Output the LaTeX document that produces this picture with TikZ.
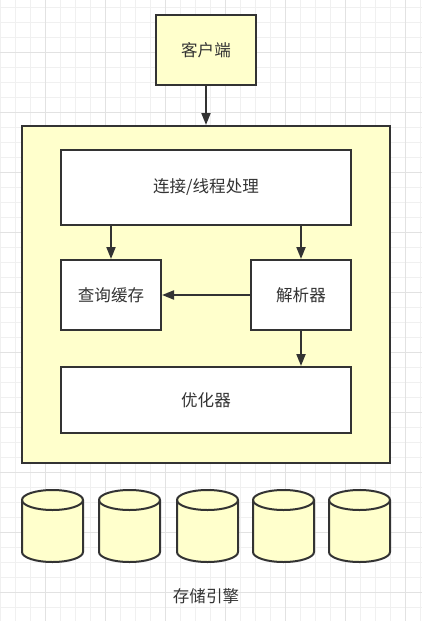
\documentclass[tikz,border=0pt]{standalone}
\usepackage{fontspec}
\newfontfamily\cjk{Noto Sans CJK SC}
\usetikzlibrary{arrows.meta}
\definecolor{paleyellow}{HTML}{FFFFCC}
\definecolor{darkline}{HTML}{333333}
\definecolor{gridminor}{HTML}{F0F0F0}
\definecolor{gridmajor}{HTML}{E2E2E2}
\tikzset{
  box/.style={draw=darkline, line width=1.5pt, fill=white, text=darkline,
    font=\cjk\fontsize{12.4}{15}\selectfont, align=center, inner sep=0pt},
  flow/.style={-{Triangle[length=9pt, width=6.75pt]}, draw=darkline, line width=1.5pt},
  store/.style={draw=darkline, line width=1.5pt, fill=paleyellow}
}
\begin{document}
\begin{tikzpicture}[x=0.75pt, y=-0.75pt]
  \useasboundingbox (0,0) rectangle (422,621);
  % Raster
  \foreach \gx in {0,...,28} \draw[gridminor, line width=0.75pt] (0.7+15*\gx,0) -- (0.7+15*\gx,621);
  \foreach \gy in {0,...,41} \draw[gridminor, line width=0.75pt] (0,7.3+15*\gy) -- (422,7.3+15*\gy);
  \foreach \gx in {0,...,6} \draw[gridmajor, line width=0.75pt] (45.7+60*\gx,0) -- (45.7+60*\gx,621);
  \foreach \gy in {0,...,9} \draw[gridmajor, line width=0.75pt] (0,52.3+60*\gy) -- (422,52.3+60*\gy);

  % Client
  \node[box, fill=paleyellow, minimum width=75pt, minimum height=52.5pt] (client) at (206,50) {客户端};

  % Server
  \node[box, fill=paleyellow, minimum width=276pt, minimum height=252.75pt] (server) at (206,294.5) {};
  \node[box, minimum width=217.5pt, minimum height=56.25pt] (conn) at (206,187.5) {连接/线程处理};
  \node[box, minimum width=75pt, minimum height=52.5pt] (cache) at (111,295) {查询缓存};
  \node[box, minimum width=75pt, minimum height=52.5pt] (parser) at (301,295) {解析器};
  \node[box, minimum width=217.5pt, minimum height=49.5pt] (optimizer) at (206,400) {优化器};

  % Storage engines
  \foreach \cx [count=\i] in {52.5,129.5,207.5,283.5,359.5} {
    \coordinate (engine\i) at (\cx,526);
    \path[store] (\cx-30.5,500) -- (\cx-30.5,552)
      arc[start angle=180, end angle=360, x radius=22.875pt, y radius=7.5pt]
      -- (\cx+30.5,500)
      arc[start angle=0, end angle=180, x radius=22.875pt, y radius=7.5pt] -- cycle;
    \draw[darkline, line width=1.5pt] (\cx-30.5,500)
      arc[start angle=180, end angle=360, x radius=22.875pt, y radius=7.5pt];
  }
  \node[text=darkline, font=\cjk\fontsize{12.4}{15}\selectfont] (engines) at (206,596) {存储引擎};

  % Arrows
  \draw[flow] (client) -- (server);
  \draw[flow] (conn.south -| cache) -- (cache);
  \draw[flow] (conn.south -| parser) -- (parser);
  \draw[flow] (parser) -- (cache);
  \draw[flow] (parser) -- (optimizer.north -| parser);
\end{tikzpicture}
\end{document}
